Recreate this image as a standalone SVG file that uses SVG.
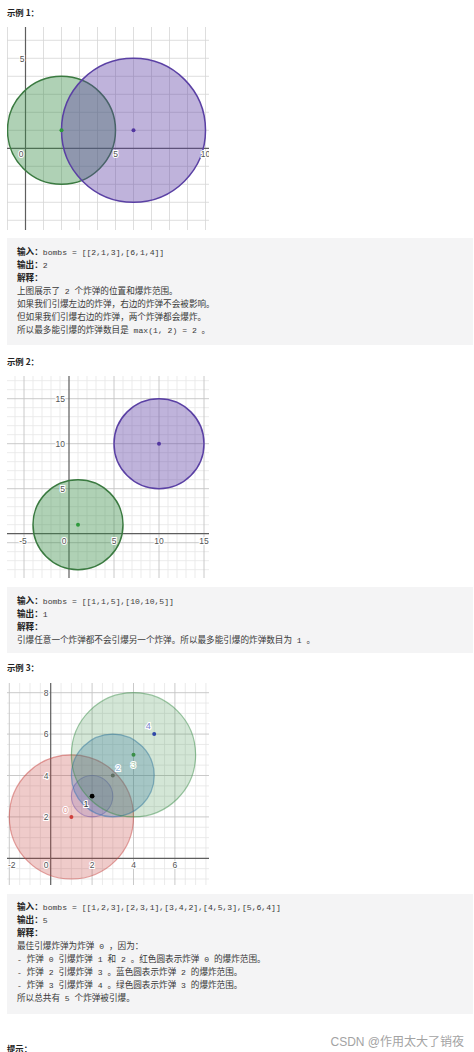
<svg xmlns="http://www.w3.org/2000/svg" width="474" height="1052" viewBox="0 0 474 1052">
<style>
.t{font-family:"Noto Sans CJK SC","Noto Sans",sans-serif;font-size:8.6px;fill:#3a3a3a}
.b{font-weight:bold;fill:#222}
.m{font-family:"Liberation Mono","DejaVu Sans Mono",monospace;font-size:8.1px}
.h{font-family:"Noto Sans CJK SC","Noto Sans",sans-serif;font-size:8.4px;font-weight:bold;fill:#222}
.ax{font-family:"Liberation Sans",Arial,sans-serif;font-size:8.5px;fill:#555;paint-order:stroke;stroke:#fff;stroke-width:2px}
.minor{stroke:#e6e6e6;stroke-width:0.8;fill:none}
.grid{stroke:#d6d6d6;stroke-width:0.8;fill:none}
.major{stroke:#c4c4c4;stroke-width:0.9;fill:none}
.axis{stroke:#5e5e5e;stroke-width:1.2;fill:none}
.box{fill:#f4f4f5}
.lbl{font-family:"Liberation Sans",Arial,sans-serif;font-size:9px;paint-order:stroke;stroke:#fff;stroke-width:2px}
</style>
<defs>
<clipPath id="c1"><rect x="7" y="27" width="202" height="203"/></clipPath>
<clipPath id="c2"><rect x="7" y="376" width="202" height="202"/></clipPath>
<clipPath id="c3"><rect x="7" y="683" width="202" height="202"/></clipPath>
</defs>
<rect width="474" height="1052" fill="#fff"/>

<!-- Example 1 -->
<g id="example1">
<text class="h" x="7" y="16">示例 1：</text>
<g id="graph1" clip-path="url(#c1)">
<path class="grid" d="M7.5 27V230M43.5 27V230M61.5 27V230M79.5 27V230M97.5 27V230M115.5 27V230M133.5 27V230M151.5 27V230M169.5 27V230M187.5 27V230M205.5 27V230M7 40.3H209M7 58.3H209M7 76.3H209M7 94.3H209M7 112.3H209M7 130.3H209M7 166.3H209M7 184.3H209M7 202.3H209M7 220.3H209"/>
<path class="axis" d="M25.5 27V230M7 148.3H209"/>
<circle cx="61.5" cy="130.3" r="54" fill="#388c46" fill-opacity="0.4" stroke="#3a7a40" stroke-width="1.5"/>
<circle cx="133.5" cy="130.3" r="72" fill="#6042a6" fill-opacity="0.4" stroke="#5a40a4" stroke-width="1.5"/>
<circle cx="61.5" cy="130.3" r="2" fill="#2e9a3c"/>
<circle cx="133.5" cy="130.3" r="2" fill="#5236a0"/>
<text class="ax" x="21" y="157" text-anchor="middle">0</text>
<text class="ax" x="115.5" y="157" text-anchor="middle">5</text>
<text class="ax" x="205.5" y="157" text-anchor="middle">10</text>
<text class="ax" x="22" y="61.5" text-anchor="middle">5</text>
</g>
<g id="box1">
<rect class="box" x="7" y="238" width="466" height="107"/>
<text class="t" x="17" y="255"><tspan class="b">输入：</tspan><tspan class="m">bombs = [[2,1,3],[6,1,4]]</tspan></text>
<text class="t" x="17" y="268"><tspan class="b">输出：</tspan><tspan class="m">2</tspan></text>
<text class="t" x="17" y="281"><tspan class="b">解释：</tspan></text>
<text class="t" x="17" y="294">上图展示了<tspan class="m"> 2 </tspan>个炸弹的位置和爆炸范围。</text>
<text class="t" x="17" y="307">如果我们引爆左边的炸弹，右边的炸弹不会被影响。</text>
<text class="t" x="17" y="320">但如果我们引爆右边的炸弹，两个炸弹都会爆炸。</text>
<text class="t" x="17" y="333">所以最多能引爆的炸弹数目是<tspan class="m"> max(1, 2) = 2 </tspan>。</text>
</g>
</g>

<!-- Example 2 -->
<g id="example2">
<text class="h" x="7" y="365">示例 2：</text>
<g id="graph2" clip-path="url(#c2)">
<path class="minor" d="M15 376V578M33 376V578M42 376V578M51 376V578M60 376V578M78 376V578M87 376V578M96 376V578M105 376V578M123 376V578M132 376V578M141 376V578M150 376V578M168 376V578M177 376V578M186 376V578M195 376V578M7 569.7H209M7 560.7H209M7 551.7H209M7 524.7H209M7 515.7H209M7 506.7H209M7 497.7H209M7 479.7H209M7 470.7H209M7 461.7H209M7 452.7H209M7 434.7H209M7 425.7H209M7 416.7H209M7 407.7H209M7 389.7H209M7 380.7H209"/>
<path class="major" d="M24 376V578M114 376V578M159 376V578M204 376V578M7 542.7H209M7 488.7H209M7 443.7H209M7 398.7H209"/>
<path class="axis" d="M69 376V578M7 533.7H209"/>
<circle cx="78" cy="524.7" r="45" fill="#388c46" fill-opacity="0.4" stroke="#3a7a40" stroke-width="1.5"/>
<circle cx="159" cy="443.7" r="45" fill="#6042a6" fill-opacity="0.4" stroke="#5a40a4" stroke-width="1.5"/>
<circle cx="78" cy="524.7" r="2" fill="#2e9a3c"/>
<circle cx="159" cy="443.7" r="2" fill="#5236a0"/>
<text class="ax" x="23" y="544" text-anchor="middle">-5</text>
<text class="ax" x="64" y="544" text-anchor="middle">0</text>
<text class="ax" x="114" y="544" text-anchor="middle">5</text>
<text class="ax" x="159" y="544" text-anchor="middle">10</text>
<text class="ax" x="204" y="544" text-anchor="middle">15</text>
<text class="ax" x="65" y="402" text-anchor="end">15</text>
<text class="ax" x="65" y="447" text-anchor="end">10</text>
<text class="ax" x="65" y="492" text-anchor="end">5</text>
</g>
<g id="box2">
<rect class="box" x="7" y="587" width="466" height="66"/>
<text class="t" x="17" y="604"><tspan class="b">输入：</tspan><tspan class="m">bombs = [[1,1,5],[10,10,5]]</tspan></text>
<text class="t" x="17" y="617"><tspan class="b">输出：</tspan><tspan class="m">1</tspan></text>
<text class="t" x="17" y="630"><tspan class="b">解释：</tspan></text>
<text class="t" x="17" y="643">引爆任意一个炸弹都不会引爆另一个炸弹。所以最多能引爆的炸弹数目为<tspan class="m"> 1 </tspan>。</text>
</g>
</g>

<!-- Example 3 -->
<g id="example3">
<text class="h" x="7" y="671">示例 3：</text>
<g id="graph3" clip-path="url(#c3)">
<path class="minor" d="M19.65 683V885M30 683V885M40.35 683V885M61.05 683V885M71.4 683V885M81.75 683V885M102.45 683V885M112.8 683V885M123.15 683V885M143.85 683V885M154.2 683V885M164.55 683V885M185.25 683V885M195.6 683V885M205.95 683V885M7 879H209M7 868.65H209M7 847.95H209M7 837.6H209M7 827.25H209M7 806.55H209M7 796.2H209M7 785.85H209M7 765.15H209M7 754.8H209M7 744.45H209M7 723.75H209M7 713.4H209M7 703.05H209"/>
<path class="major" d="M9.3 683V885M92.1 683V885M133.5 683V885M174.9 683V885M7 816.9H209M7 775.5H209M7 734.1H209M7 692.7H209"/>
<path class="axis" d="M50.7 683V885M7 858.3H209"/>
<circle cx="71.4" cy="816.9" r="62.1" fill="#c74440" fill-opacity="0.28" stroke="#c74440" stroke-opacity="0.5" stroke-width="1.2"/>
<circle cx="92.1" cy="796.2" r="20.7" fill="#6042a6" fill-opacity="0.18" stroke="#6042a6" stroke-opacity="0.4" stroke-width="1.1"/>
<circle cx="112.8" cy="775.5" r="41.4" fill="#2d70b3" fill-opacity="0.28" stroke="#2d70b3" stroke-opacity="0.5" stroke-width="1.2"/>
<circle cx="133.5" cy="754.8" r="62.1" fill="#388c46" fill-opacity="0.22" stroke="#388c46" stroke-opacity="0.5" stroke-width="1.2"/>
<circle cx="71.4" cy="816.9" r="2" fill="#d0403c"/>
<circle cx="92.1" cy="796.2" r="2.4" fill="#000"/>
<circle cx="112.8" cy="775.5" r="2" fill="#5f6e62"/>
<circle cx="133.5" cy="754.8" r="2" fill="#3a8f48"/>
<circle cx="154.2" cy="734.1" r="2" fill="#2e47a8"/>
<text class="lbl" x="65.5" y="812.5" text-anchor="middle" fill="#e29896">0</text>
<text class="lbl" x="86" y="807" text-anchor="middle" fill="#333">1</text>
<text class="lbl" x="118" y="770.5" text-anchor="middle" fill="#8fb3d6">2</text>
<text class="lbl" x="133.3" y="767.5" text-anchor="middle" fill="#a8c8aa">3</text>
<text class="lbl" x="148.3" y="729" text-anchor="middle" fill="#7a84cc">4</text>
<text class="ax" x="11.7" y="868" text-anchor="middle">-2</text>
<text class="ax" x="46" y="868" text-anchor="middle">0</text>
<text class="ax" x="92" y="868" text-anchor="middle">2</text>
<text class="ax" x="133.5" y="868" text-anchor="middle">4</text>
<text class="ax" x="174.9" y="868" text-anchor="middle">6</text>
<text class="ax" x="46" y="695.5" text-anchor="middle">8</text>
<text class="ax" x="46" y="737" text-anchor="middle">6</text>
<text class="ax" x="46" y="778.5" text-anchor="middle">4</text>
<text class="ax" x="46" y="820" text-anchor="middle">2</text>
</g>
<g id="box3">
<rect class="box" x="7" y="894" width="466" height="120"/>
<text class="t" x="17" y="910"><tspan class="b">输入：</tspan><tspan class="m">bombs = [[1,2,3],[2,3,1],[3,4,2],[4,5,3],[5,6,4]]</tspan></text>
<text class="t" x="17" y="923"><tspan class="b">输出：</tspan><tspan class="m">5</tspan></text>
<text class="t" x="17" y="936"><tspan class="b">解释：</tspan></text>
<text class="t" x="17" y="949">最佳引爆炸弹为炸弹<tspan class="m"> 0 </tspan>，因为：</text>
<text class="t" x="17" y="962"><tspan class="m">- </tspan>炸弹<tspan class="m"> 0 </tspan>引爆炸弹<tspan class="m"> 1 </tspan>和<tspan class="m"> 2 </tspan>。红色圆表示炸弹<tspan class="m"> 0 </tspan>的爆炸范围。</text>
<text class="t" x="17" y="975"><tspan class="m">- </tspan>炸弹<tspan class="m"> 2 </tspan>引爆炸弹<tspan class="m"> 3 </tspan>。蓝色圆表示炸弹<tspan class="m"> 2 </tspan>的爆炸范围。</text>
<text class="t" x="17" y="988"><tspan class="m">- </tspan>炸弹<tspan class="m"> 3 </tspan>引爆炸弹<tspan class="m"> 4 </tspan>。绿色圆表示炸弹<tspan class="m"> 3 </tspan>的爆炸范围。</text>
<text class="t" x="17" y="1001">所以总共有<tspan class="m"> 5 </tspan>个炸弹被引爆。</text>
</g>
</g>

<g id="footer">
<text x="464" y="1046" text-anchor="end" font-family="'Liberation Sans','Noto Sans CJK SC',sans-serif" font-size="12" fill="#a3a3a3">CSDN @作用太大了销夜</text>
<text class="h" x="7" y="1052">提示：</text>
</g>
</svg>
